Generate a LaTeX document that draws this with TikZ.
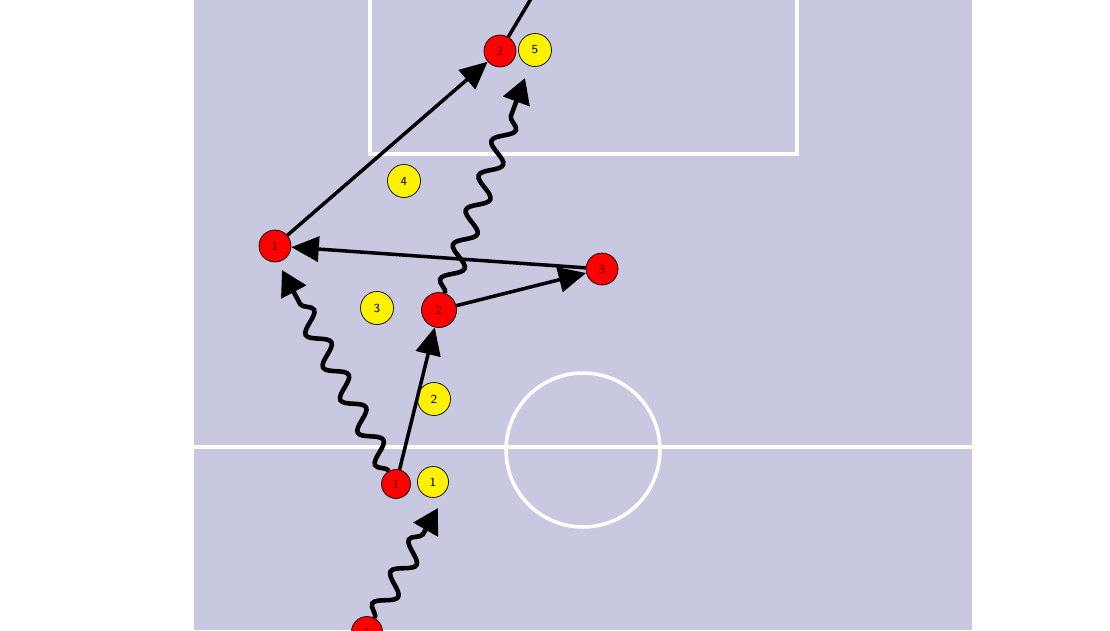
\documentclass[tikz,border=0pt]{standalone}
\usetikzlibrary{arrows.meta,decorations.pathmorphing}
\definecolor{pitch}{RGB}{200,200,225}
\begin{document}
\begin{tikzpicture}[x=0.02cm,y=-0.02cm]
        \tikzstyle{every node}+=[inner sep=0pt,font=\sffamily\scriptsize]
        \tikzstyle{attack}=[circle,draw=black,fill=red,minimum size=0.64cm,text=red!40!black]
        \tikzstyle{defend}=[circle,draw=black,fill=yellow,minimum size=0.66cm]
        \tikzstyle{pass}=[line width=2pt,-{Triangle[length=0.55cm,width=0.5cm]}]
        \tikzstyle{run}=[line width=2.6pt,-{Triangle[length=0.5cm,width=0.55cm]},decorate,
          decoration={snake,amplitude=5.5pt,segment length=21pt,post length=0.45cm}]
        \useasboundingbox (0,0) rectangle (1110,630);
        % pitch
        \fill [pitch] (194,0) rectangle (972,630);
        \draw [white,line width=2pt] (370,-5) -- (370,154) -- (797,154) -- (797,-5);
        \draw [white,line width=2pt] (194,447) -- (972,447);
        \draw [white,line width=2pt] (583,450) circle (77);
        % players
        \node [attack,minimum width=0.56cm] (a2top) at (500,51) {2};
        \node [defend,minimum width=0.56cm] (d5) at (535,50) {5};
        \node [defend] (d4) at (404,181) {4};
        \node [attack] (a1) at (275,246) {1};
        \node [attack] (a3) at (602,269) {3};
        \node [defend] (d3) at (377,308) {3};
        \node [attack,minimum size=0.7cm] (a2) at (439,310) {2};
        \node [defend] (d2) at (434,399) {2};
        \node [attack,minimum size=0.58cm] (a1low) at (396,484) {1};
        \node [defend,minimum size=0.62cm] (d1) at (433,482) {1};
        \node [attack,minimum size=0.62cm] (a0) at (367,632) {1};
        \coordinate (out) at (532,-3);
        \coordinate (runend0) at (438,508);
        \coordinate (runend1) at (282,270);
        \coordinate (runend2) at (525,78);
        % passes
        \draw [line width=2pt] (a2top) -- (out);
        \draw [pass] (a1) -- (a2top);
        \draw [pass] (a3) -- (a1);
        \draw [pass] (a2) -- (a3);
        \draw [pass] (a1low) -- (a2);
        % dribbles
        \draw [run] (a0) -- (runend0);
        \draw [run] (a1low) -- (runend1);
        \draw [run] (a2) -- (runend2);
\end{tikzpicture}
\end{document}
